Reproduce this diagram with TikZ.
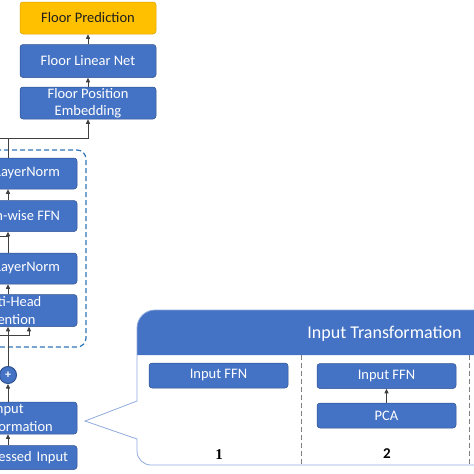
\documentclass[tikz,border=0pt]{standalone}
\usepackage{fontspec}
\setmainfont{Carlito}
\newfontfamily\numserif{Liberation Serif}
\usetikzlibrary{arrows.meta, positioning, calc}
\definecolor{itblue}{HTML}{4472C4}
\definecolor{itbluedark}{HTML}{2F528F}
\definecolor{itgold}{HTML}{FFC000}
\definecolor{itline}{HTML}{8FAADC}
\definecolor{itdash}{HTML}{2E75B6}
\definecolor{itgray}{HTML}{404040}

\begin{document}
\begin{tikzpicture}[x=1pt, y=-1pt,
  every node/.style={font=\fontsize{14.5}{17.5}\selectfont, align=center},
  node distance=10pt,
  blk/.style={draw=itbluedark, line width=0.5pt, fill=itblue, text=white, rounded corners=3pt,
    minimum width=138pt, minimum height=31pt, inner sep=0pt},
  sub/.style={blk, minimum width=139pt, minimum height=25pt},
  arr/.style={-{Triangle[length=4.5pt,width=4pt]}, itgray, line width=0.8pt},
  ln/.style={itgray, line width=0.8pt}]
  \useasboundingbox (0,0) rectangle (474,474);
  \clip (0,0) rectangle (474,474);

  % output head
  \node[blk, minimum width=136pt, minimum height=32pt] (emb) at (88,103) {Floor Position\\Embedding};
  \node[blk, minimum width=136pt, minimum height=33pt, above=9pt of emb] (lin) {Floor Linear Net};
  \node[blk, minimum width=136pt, minimum height=32pt, fill=itgold, draw=itgold!85!black,
    text=black!88, above=10pt of lin] (pred) {Floor Prediction};

  % encoder block
  \draw[itdash, dash pattern=on 5pt off 3pt, line width=1.2pt, rounded corners=9pt] (-80,150) rectangle (86,347);
  \node[blk, text width=104pt, align=right] (ln2) at (8,173.5) {LayerNorm};
  \node[blk, below=11pt of ln2] (ffn) {Position-wise FFN};
  \node[blk, text width=104pt, align=right, below=21pt of ffn] (ln1) {LayerNorm};
  \node[blk, minimum height=32pt, below=10pt of ln1] (mha) {Multi-Head\\Attention};
  \node[circle, fill=itblue, draw=itbluedark, line width=1pt, minimum size=17pt, inner sep=0pt,
    text=white, font=\bfseries\fontsize{12}{12}\selectfont] (plus) at (8,375) {+};
  \node[blk, minimum height=32pt] (trans) at (8,418) {Input\\Transformation};
  \node[blk, minimum height=24pt, text width=120pt, align=right, below=11pt of trans] (proc) {Processed Input};

  \coordinate (jtop) at (8,138);
  \coordinate (rtop) at (0,138);
  \coordinate (jmid) at (8,236);
  \coordinate (rmid) at (0,236);
  \coordinate (rlow) at (0,335);
  \coordinate (kv) at (29,335);

  \draw[arr] (emb) -- (lin);
  \draw[arr] (lin) -- (pred);
  \draw[arr] (ln2.north) -- (jtop) -| (emb.south);
  \draw[ln] (rtop) -- (jtop);
  \draw[arr] (ffn) -- (ln2);
  \draw[arr] (ln1) -- (ffn);
  \draw[ln] (rmid) -- (jmid);
  \draw[arr] (mha) -- (ln1);
  \draw[arr] (plus) -- (mha);
  \draw[arr] (rlow) -- (kv) -- (kv |- mha.south);
  \draw[arr] (trans) -- (plus);
  \draw[arr] (proc) -- (trans);

  % input transformation callout
  \coordinate (tip) at (85,421);
  \fill[itblue] (137,355) -- (137,328) arc[start angle=180, end angle=270, radius=18] -- (490,310) -- (490,355) -- cycle;
  \draw[itline, line width=0.8pt] (490,310) -- (155,310) arc[start angle=270, end angle=180, radius=18]
    -- (137,401) -- (tip) -- (137,439) -- (137,451) arc[start angle=180, end angle=90, radius=14] -- (490,465);
  \node[text=white, font=\fontsize{18}{20}\selectfont] (head) at (384.5,334) {Input Transformation};
  \draw[black!50, dash pattern=on 5pt off 3pt, line width=0.8pt] (301,355) -- (301,465);
  \draw[black!50, dash pattern=on 5pt off 3pt, line width=0.8pt] (469,355) -- (469,465);

  \node[sub] (ffnA) at (218.5,375.5) {Input FFN};
  \node[sub] (ffnB) at (386.5,376) {Input FFN};
  \node[sub, below=14pt of ffnB] (pca) {PCA};
  \draw[arr] (pca) -- (ffnB);
  \node[font=\numserif\bfseries\fontsize{15}{15}\selectfont] (one) at (219,455) {1};
  \node[font=\bfseries\fontsize{15}{15}\selectfont] (two) at (387,454) {2};
\end{tikzpicture}
\end{document}
